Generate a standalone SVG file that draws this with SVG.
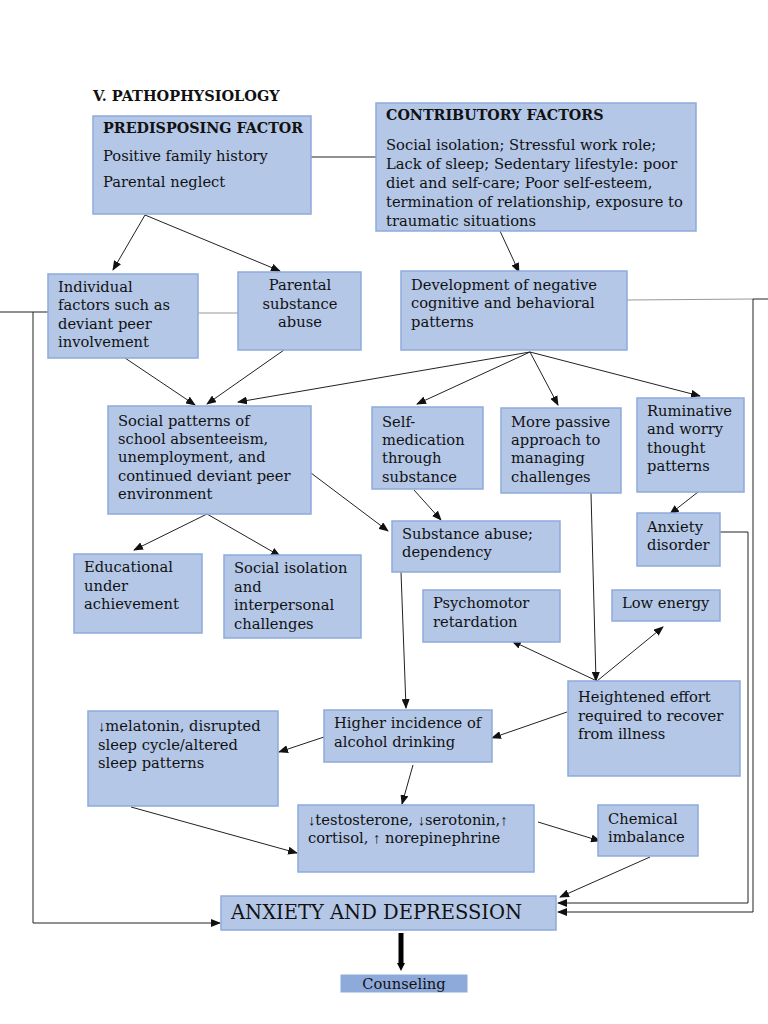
<svg xmlns="http://www.w3.org/2000/svg" width="768" height="1024" viewBox="0 0 768 1024">
<style>
.box{fill:#b4c7e7;stroke:#8eaadb;stroke-width:1.5}
.t{font-family:"DejaVu Serif","Liberation Serif",serif;font-size:14.7px;fill:#111}
.b{font-family:"DejaVu Serif","Liberation Serif",serif;font-size:14.3px;font-weight:bold;fill:#111}
.ar{font-family:"Liberation Serif","DejaVu Serif",serif}
.c{stroke:#222;stroke-width:1;fill:none}
.g{stroke:#999;stroke-width:1.2;fill:none}
.a{marker-end:url(#ah)}
</style>
<defs>
<marker id="ah" markerUnits="userSpaceOnUse" markerWidth="10" markerHeight="8" refX="9" refY="4" orient="auto">
<path d="M0,0 L10,4 L0,8 Z" fill="#111"/>
</marker>
</defs>
<rect width="768" height="1024" fill="#fff"/>
<text class="b" x="93" y="101" style="font-size:14.5px">V. PATHOPHYSIOLOGY</text>

<g id="connectors">
<line class="c" x1="311" y1="157" x2="376" y2="157"/>
<line class="c a" x1="145" y1="215" x2="113" y2="270"/>
<line class="c a" x1="145" y1="215" x2="280" y2="271"/>
<line class="g" x1="198" y1="313" x2="238" y2="313"/>
<line class="c a" x1="500" y1="231" x2="519" y2="272"/>
<line class="c a" x1="125" y1="358" x2="195" y2="405"/>
<line class="c a" x1="284" y1="350" x2="207" y2="404"/>
<line class="c a" x1="530" y1="352" x2="238" y2="402"/>
<line class="c a" x1="530" y1="352" x2="417" y2="404"/>
<line class="c a" x1="530" y1="352" x2="558" y2="405"/>
<line class="c a" x1="530" y1="352" x2="700" y2="396"/>
<line class="c a" x1="698" y1="492" x2="670" y2="514"/>
<line class="c a" x1="414" y1="490" x2="441" y2="520"/>
<line class="c a" x1="311" y1="473" x2="388" y2="531"/>
<line class="c a" x1="207" y1="514" x2="134" y2="550"/>
<line class="c a" x1="207" y1="514" x2="280" y2="556"/>
<line class="c a" x1="597" y1="681" x2="512" y2="641"/>
<line class="c a" x1="597" y1="681" x2="663" y2="627"/>
<line class="c a" x1="591" y1="493" x2="596" y2="681"/>
<line class="c a" x1="401" y1="572" x2="406" y2="708"/>
<line class="c a" x1="567" y1="712" x2="492" y2="738"/>
<line class="c a" x1="324" y1="737" x2="279" y2="752"/>
<line class="c a" x1="413" y1="765" x2="402" y2="804"/>
<line class="c a" x1="131" y1="807" x2="297" y2="853"/>
<line class="c a" x1="538" y1="822" x2="600" y2="841"/>
<line class="c a" x1="650" y1="857" x2="560" y2="897"/>
<polyline class="g" points="627,300 753,299"/>
<polyline class="c" points="753,299 768,299"/>
<polyline class="c a" points="753,299 753,912 558,912"/>
<polyline class="c a" points="720,532 748,532 748,903 558,903"/>
<polyline class="c" points="0,312 48,312"/>
<polyline class="c a" points="33,312 33,923 220,923"/>
<line x1="401" y1="933" x2="401" y2="964" stroke="#000" stroke-width="5"/>
<path d="M397,963 L405,963 L401,971 Z" fill="#000"/>
</g>

<g id="predisposing">
<rect class="box" x="93" y="116" width="218" height="98"/>
<text class="b" x="103" y="133">PREDISPOSING FACTOR</text>
<text class="t" x="103" y="161">Positive family history</text>
<text class="t" x="103" y="187">Parental neglect</text>
</g>
<g id="contributory">
<rect class="box" x="376" y="103" width="320" height="128"/>
<text class="b" x="386" y="120">CONTRIBUTORY FACTORS</text>
<text class="t" x="386" y="150">Social isolation; Stressful work role;</text>
<text class="t" x="386" y="169">Lack of sleep; Sedentary lifestyle: poor</text>
<text class="t" x="386" y="188">diet and self-care; Poor self-esteem,</text>
<text class="t" x="386" y="207">termination of relationship, exposure to</text>
<text class="t" x="386" y="226">traumatic situations</text>
</g>
<g id="individual">
<rect class="box" x="48" y="274" width="150" height="84"/>
<text class="t" x="58" y="292">Individual</text>
<text class="t" x="58" y="310">factors such as</text>
<text class="t" x="58" y="329">deviant peer</text>
<text class="t" x="58" y="347">involvement</text>
</g>
<g id="parental">
<rect class="box" x="238" y="272" width="123" height="78"/>
<text class="t" x="300" y="290" text-anchor="middle">Parental</text>
<text class="t" x="300" y="309" text-anchor="middle">substance</text>
<text class="t" x="300" y="327" text-anchor="middle">abuse</text>
</g>
<g id="development">
<rect class="box" x="401" y="271" width="226" height="79"/>
<text class="t" x="411" y="290">Development of negative</text>
<text class="t" x="411" y="308">cognitive and behavioral</text>
<text class="t" x="411" y="327">patterns</text>
</g>
<g id="social-patterns">
<rect class="box" x="108" y="406" width="203" height="108"/>
<text class="t" x="118" y="426">Social patterns of</text>
<text class="t" x="118" y="444">school absenteeism,</text>
<text class="t" x="118" y="462">unemployment, and</text>
<text class="t" x="118" y="481">continued deviant peer</text>
<text class="t" x="118" y="499">environment</text>
</g>
<g id="self-medication">
<rect class="box" x="372" y="407" width="111" height="82"/>
<text class="t" x="382" y="427">Self-</text>
<text class="t" x="382" y="445">medication</text>
<text class="t" x="382" y="463">through</text>
<text class="t" x="382" y="482">substance</text>
</g>
<g id="passive">
<rect class="box" x="501" y="408" width="120" height="85"/>
<text class="t" x="511" y="427">More passive</text>
<text class="t" x="511" y="445">approach to</text>
<text class="t" x="511" y="463">managing</text>
<text class="t" x="511" y="482">challenges</text>
</g>
<g id="ruminative">
<rect class="box" x="637" y="398" width="107" height="94"/>
<text class="t" x="647" y="416">Ruminative</text>
<text class="t" x="647" y="434">and worry</text>
<text class="t" x="647" y="453">thought</text>
<text class="t" x="647" y="471">patterns</text>
</g>
<g id="anxiety-disorder">
<rect class="box" x="637" y="513" width="83" height="53"/>
<text class="t" x="647" y="532">Anxiety</text>
<text class="t" x="647" y="550">disorder</text>
</g>
<g id="substance-abuse">
<rect class="box" x="392" y="521" width="168" height="51"/>
<text class="t" x="402" y="539">Substance abuse;</text>
<text class="t" x="402" y="557">dependency</text>
</g>
<g id="educational">
<rect class="box" x="74" y="554" width="128" height="79"/>
<text class="t" x="84" y="572">Educational</text>
<text class="t" x="84" y="591">under</text>
<text class="t" x="84" y="609">achievement</text>
</g>
<g id="social-isolation">
<rect class="box" x="224" y="555" width="137" height="83"/>
<text class="t" x="234" y="573">Social isolation</text>
<text class="t" x="234" y="592">and</text>
<text class="t" x="234" y="610">interpersonal</text>
<text class="t" x="234" y="629">challenges</text>
</g>
<g id="psychomotor">
<rect class="box" x="423" y="590" width="137" height="52"/>
<text class="t" x="433" y="608">Psychomotor</text>
<text class="t" x="433" y="627">retardation</text>
</g>
<g id="low-energy">
<rect class="box" x="612" y="590" width="108" height="31"/>
<text class="t" x="622" y="608">Low energy</text>
</g>
<g id="heightened">
<rect class="box" x="568" y="681" width="172" height="95"/>
<text class="t" x="578" y="702">Heightened effort</text>
<text class="t" x="578" y="721">required to recover</text>
<text class="t" x="578" y="739">from illness</text>
</g>
<g id="alcohol">
<rect class="box" x="324" y="710" width="168" height="52"/>
<text class="t" x="334" y="728">Higher incidence of</text>
<text class="t" x="334" y="747">alcohol drinking</text>
</g>
<g id="melatonin">
<rect class="box" x="88" y="711" width="190" height="95"/>
<text class="t" x="98" y="731"><tspan class="ar">↓</tspan>melatonin, disrupted</text>
<text class="t" x="98" y="750">sleep cycle/altered</text>
<text class="t" x="98" y="768">sleep patterns</text>
</g>
<g id="hormones">
<rect class="box" x="298" y="805" width="236" height="67"/>
<text class="t" x="308" y="825"><tspan class="ar">↓</tspan>testosterone, <tspan class="ar">↓</tspan>serotonin,<tspan class="ar">↑</tspan></text>
<text class="t" x="308" y="843">cortisol, <tspan class="ar">↑</tspan> norepinephrine</text>
</g>
<g id="chemical">
<rect class="box" x="598" y="805" width="100" height="51"/>
<text class="t" x="608" y="824">Chemical</text>
<text class="t" x="608" y="842">imbalance</text>
</g>
<g id="anxiety-depression">
<rect class="box" x="221" y="896" width="335" height="34"/>
<text class="t" x="231" y="919" style="font-size:19.5px">ANXIETY AND DEPRESSION</text>
</g>
<g id="counseling">
<rect x="341" y="975" width="126" height="17" fill="#8eaadb" stroke="#8eaadb"/>
<text class="t" x="404" y="988.5" text-anchor="middle">Counseling</text>
</g>
</svg>
